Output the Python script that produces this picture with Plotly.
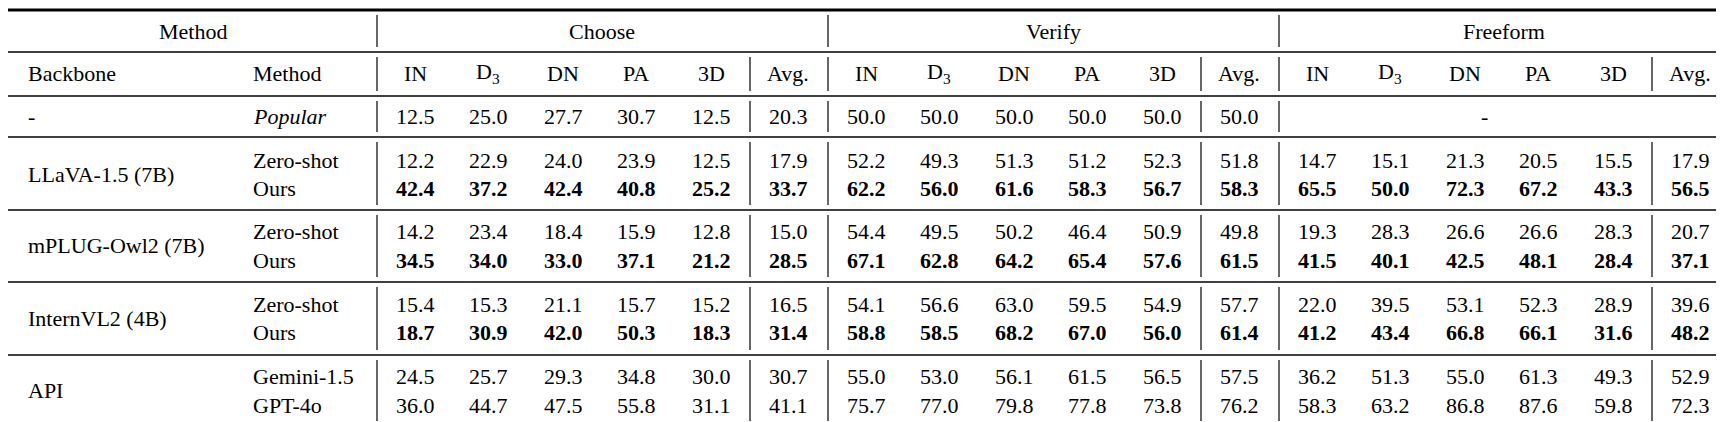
import plotly.graph_objects as go

groups = ["Choose", "Verify", "Freeform"]
subcols = ["IN", "D<sub>3</sub>", "DN", "PA", "3D", "Avg."]
backbones = ["-", "LLaVA-1.5 (7B)", "mPLUG-Owl2 (7B)", "InternVL2 (4B)", "API"]
methods = [["<i>Popular</i>"], ["Zero-shot", "Ours"], ["Zero-shot", "Ours"],
           ["Zero-shot", "Ours"], ["Gemini-1.5", "GPT-4o"]]

popular = [12.5, 25.0, 27.7, 30.7, 12.5, 20.3, 50.0, 50.0, 50.0, 50.0, 50.0, 50.0]
llava_zs = [12.2, 22.9, 24.0, 23.9, 12.5, 17.9, 52.2, 49.3, 51.3, 51.2, 52.3, 51.8, 14.7, 15.1, 21.3, 20.5, 15.5, 17.9]
llava_ours = [42.4, 37.2, 42.4, 40.8, 25.2, 33.7, 62.2, 56.0, 61.6, 58.3, 56.7, 58.3, 65.5, 50.0, 72.3, 67.2, 43.3, 56.5]
mplug_zs = [14.2, 23.4, 18.4, 15.9, 12.8, 15.0, 54.4, 49.5, 50.2, 46.4, 50.9, 49.8, 19.3, 28.3, 26.6, 26.6, 28.3, 20.7]
mplug_ours = [34.5, 34.0, 33.0, 37.1, 21.2, 28.5, 67.1, 62.8, 64.2, 65.4, 57.6, 61.5, 41.5, 40.1, 42.5, 48.1, 28.4, 37.1]
intern_zs = [15.4, 15.3, 21.1, 15.7, 15.2, 16.5, 54.1, 56.6, 63.0, 59.5, 54.9, 57.7, 22.0, 39.5, 53.1, 52.3, 28.9, 39.6]
intern_ours = [18.7, 30.9, 42.0, 50.3, 18.3, 31.4, 58.8, 58.5, 68.2, 67.0, 56.0, 61.4, 41.2, 43.4, 66.8, 66.1, 31.6, 48.2]
gemini = [24.5, 25.7, 29.3, 34.8, 30.0, 30.7, 55.0, 53.0, 56.1, 61.5, 56.5, 57.5, 36.2, 51.3, 55.0, 61.3, 49.3, 52.9]
gpt4o = [36.0, 44.7, 47.5, 55.8, 31.1, 41.1, 75.7, 77.0, 79.8, 77.8, 73.8, 76.2, 58.3, 63.2, 86.8, 87.6, 59.8, 72.3]

blocks = [[popular], [llava_zs, llava_ours], [mplug_zs, mplug_ours],
          [intern_zs, intern_ours], [gemini, gpt4o]]
bold_rows = {(1, 1), (2, 1), (3, 1)}

FONT = "Liberation Serif, Times New Roman, DejaVu Serif, serif"
FS = 22
W, H = 1724, 422
group_x0 = [369, 820, 1271]
sub_off = [38, 111, 186, 259, 334, 411]
avg_off = 373

# row layout
rules = [44, 88, 129, 202, 274, 347]
block_y = [[108], [152, 180], [223, 252], [296, 324], [368, 397]]

fig = go.Figure()
ann = []

def txt(x, y, s, anchor="center", bold=False):
    if bold:
        s = "<b>" + s + "</b>"
    ann.append(dict(x=x, y=y, text=s, showarrow=False, xanchor=anchor, yanchor="middle",
                    font=dict(family=FONT, size=FS, color="black")))

# header
txt(185, 23, "Method")
for g, gx in zip(groups, group_x0):
    txt(gx + 225, 23, g)
txt(18, 65, "Backbone", "left")
txt(243, 65, "Method", "left")
for gx in group_x0:
    for off, s in zip(sub_off, subcols):
        txt(gx + off, 65, s)

for bi, (bb, ms, rows, ys) in enumerate(zip(backbones, methods, blocks, block_y)):
    txt(18, sum(ys) / len(ys), bb, "left")
    for ri, (m, vals, y) in enumerate(zip(ms, rows, ys)):
        txt(243, y, m, "left")
        bold = (bi, ri) in bold_rows
        for i, v in enumerate(vals):
            gx = group_x0[i // 6]
            txt(gx + sub_off[i % 6], y, f"{v:.1f}", bold=bold)
    if bi == 0:
        txt(group_x0[2] + 205, ys[0], "-")

shapes = []
def hline(y, w):
    shapes.append(dict(type="line", x0=0, x1=W, y0=y, y1=y, line=dict(color="black", width=w)))
def vline(x, y0, y1):
    shapes.append(dict(type="line", x0=x, x1=x, y0=y0, y1=y1, line=dict(color="black", width=1.2)))

hline(2, 3)
for r in rules:
    hline(r, 1.4)
hline(418, 3)

bounds = [2] + rules + [418]
for k in range(len(bounds) - 1):
    y0, y1 = bounds[k] + 5, bounds[k + 1] - 5
    for gx in group_x0:
        vline(gx, y0, y1)
    if k >= 1:
        for gi, gx in enumerate(group_x0):
            if k == 2 and gi == 2:
                continue
            vline(gx + avg_off, y0, y1)

fig.update_layout(width=W, height=H, margin=dict(l=0, r=0, t=0, b=0),
                  plot_bgcolor="white", paper_bgcolor="white",
                  annotations=ann, shapes=shapes,
                  xaxis=dict(range=[0, W], visible=False),
                  yaxis=dict(range=[H, 0], visible=False))
fig.write_html("out.html")
